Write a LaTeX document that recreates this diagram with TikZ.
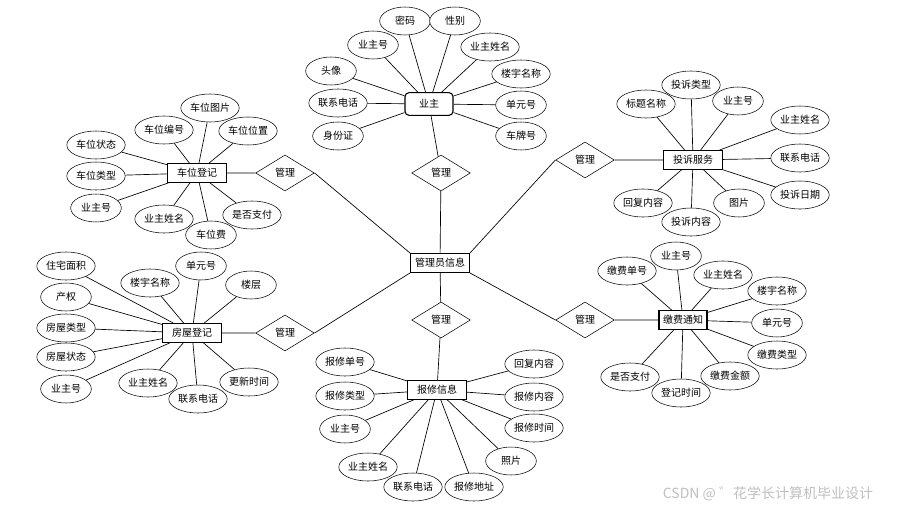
\documentclass[tikz,border=0pt]{standalone}
\usepackage{fontspec}
\setmainfont{Noto Sans CJK SC}
\usetikzlibrary{shapes.geometric}
\begin{document}
\begin{tikzpicture}[x=0.75pt,y=-0.75pt,font=\fontsize{7.5}{9}\selectfont,
  attr/.style={draw,ellipse,inner sep=0.5pt,minimum width=38pt,minimum height=21pt,fill=white},
  ent/.style={draw,rectangle,thick,minimum width=44pt,minimum height=14pt,inner sep=1pt,fill=white},
  rel/.style={draw,diamond,aspect=1.7,inner sep=0.5pt,minimum width=44pt,minimum height=27pt,fill=white},
  lnk/.style={draw,line width=0.5pt}]
\useasboundingbox (0,0) rectangle (902,510);
% centre
\node[ent] (adm) at (440,263) {管理员信息};
% 业主
\node[ent,rounded corners=3pt,minimum width=36pt,minimum height=17pt] (yz) at (429,104) {业主};
\node[rel] (r1) at (441,173) {管理};
\foreach \n/\x/\y/\t in {a1/405/21/密码,a2/455/21/性别,a3/373/45/业主号,a4/490/47/业主姓名,a5/331/71/头像,a6/521/74/楼宇名称,a7/338/103/联系电话,a8/521/105/单元号,a9/338/136/身份证,a10/521/136/车牌号}
  {\node[attr] (\n) at (\x,\y) {\t}; \draw[lnk] (yz) -- (\n);}
% 车位登记
\node[ent] (cw) at (197,173) {车位登记};
\node[rel] (r2) at (285,173) {管理};
\foreach \n/\x/\y/\t in {b1/210/108/车位图片,b2/164/130/车位编号,b3/248/131/车位位置,b4/96/145/车位状态,b5/96/176/车位类型,b6/96/208/业主号,b7/164/219/业主姓名,b8/252/215/是否支付,b9/211/235/车位费}
  {\node[attr] (\n) at (\x,\y) {\t}; \draw[lnk] (cw) -- (\n);}
% 投诉服务
\node[ent] (ts) at (693,160) {投诉服务};
\node[rel] (r3) at (585,160) {管理};
\foreach \n/\x/\y/\t in {c1/691/85/投诉类型,c2/646/104/标题名称,c3/738/101/业主号,c4/800/120/业主姓名,c5/800/158/联系电话,c6/800/195/投诉日期,c7/643/203/回复内容,c8/739/203/图片,c9/691/222/投诉内容}
  {\node[attr] (\n) at (\x,\y) {\t}; \draw[lnk] (ts) -- (\n);}
% 房屋登记
\node[ent] (fw) at (192,333) {房屋登记};
\node[rel] (r4) at (285,333) {管理};
\foreach \n/\x/\y/\t in {d1/66/266/住宅面积,d2/66/297/产权,d3/66/328/房屋类型,d4/66/357/房屋状态,d5/66/389/业主号,d6/150/283/楼宇名称,d7/201/266/单元号,d8/251/285/楼层,d9/148/383/业主姓名,d11/249/382/更新时间,d10/198/399/联系电话}
  {\node[attr] (\n) at (\x,\y) {\t}; \draw[lnk] (fw) -- (\n);}
% 报修信息
\node[ent] (bx) at (437,390) {报修信息};
\node[rel] (r5) at (441,320) {管理};
\foreach \n/\x/\y/\t in {e1/345/362/报修单号,e2/345/396/报修类型,e3/345/429/业主号,e4/368/467/业主姓名,e6/474/487/报修地址,e5/413/487/联系电话,e7/511/461/照片,e8/534/364/回复内容,e9/534/397/报修内容,e10/534/428/报修时间}
  {\node[attr] (\n) at (\x,\y) {\t}; \draw[lnk] (bx) -- (\n);}
% 缴费通知
\node[ent,minimum width=36pt] (jf) at (683,320) {缴费通知};
\node[rel] (r6) at (585,320) {管理};
\foreach \n/\x/\y/\t in {f1/627/271/缴费单号,f2/676/256/业主号,f3/723/275/业主姓名,f4/777/291/楼宇名称,f5/777/323/单元号,f6/777/355/缴费类型,f7/630/377/是否支付,f9/730/376/缴费金额,f8/681/393/登记时间}
  {\node[attr] (\n) at (\x,\y) {\t}; \draw[lnk] (jf) -- (\n);}
% relations
\draw[lnk] (yz) -- (r1) -- (adm);
\draw[lnk] (cw) -- (r2.west) (r2.east) -- (adm.north west);
\draw[lnk] (ts) -- (r3.east) (r3.west) -- (adm.north east);
\draw[lnk] (fw) -- (r4.west) (r4.east) -- (adm.south west);
\draw[lnk] (bx) -- (r5) -- (adm);
\draw[lnk] (jf) -- (r6.east) (r6.west) -- (adm.south east);
\node[text=black!25,font=\fontsize{10.5}{12}\selectfont] (wm) at (768,494) {CSDN @ ゛花学长计算机毕业设计};
\end{tikzpicture}
\end{document}
